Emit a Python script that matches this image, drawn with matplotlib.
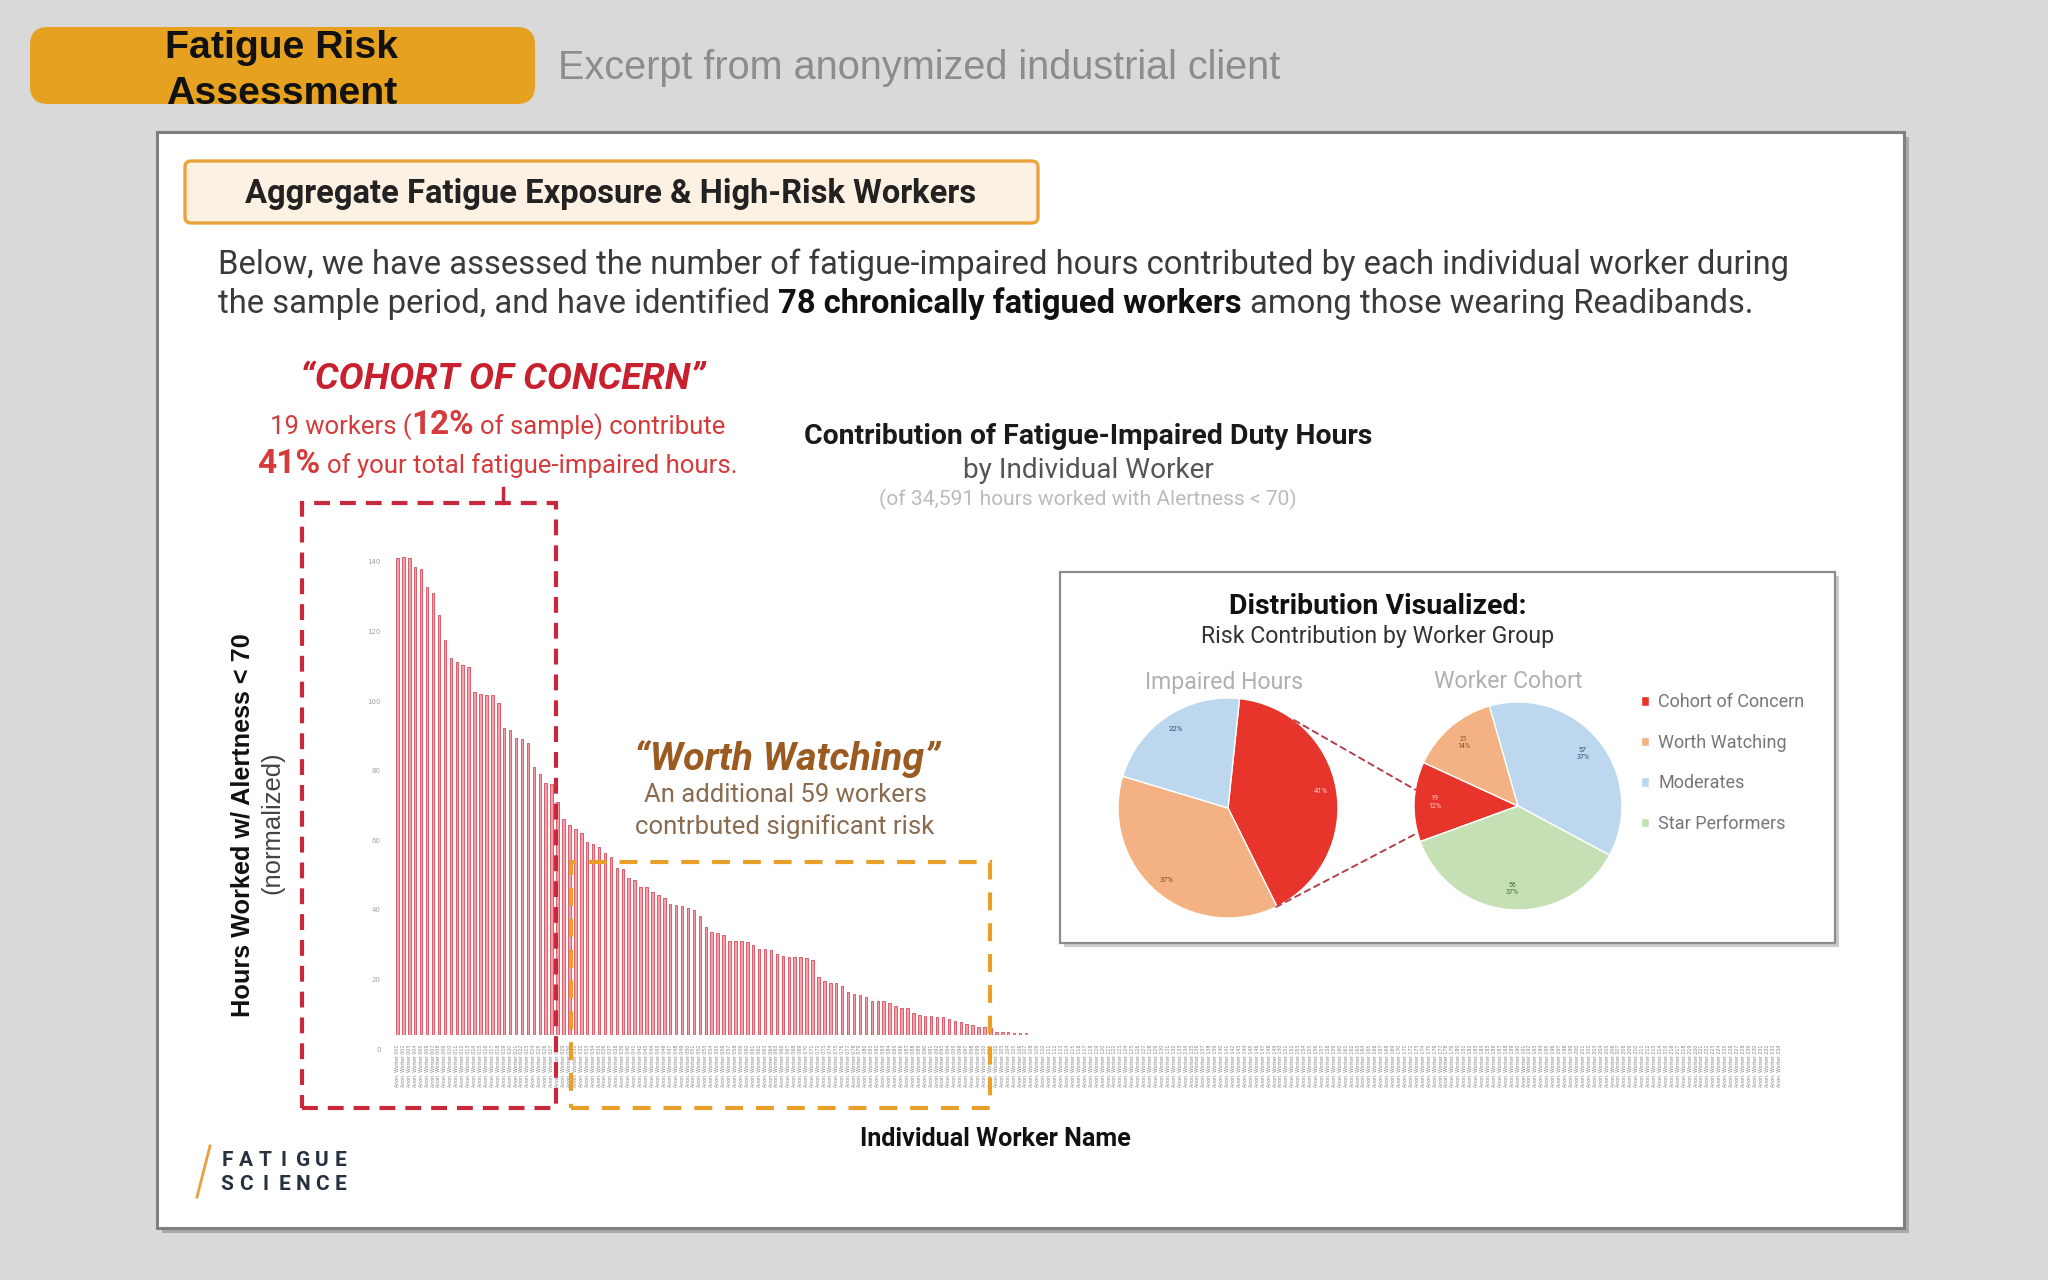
"""Fatigue risk slide: impaired hours per worker with cohort pies."""

import matplotlib

matplotlib.use("Agg")
import matplotlib.pyplot as plt
import numpy as np
from matplotlib.patches import ConnectionPatch, FancyBboxPatch
from matplotlib.transforms import IdentityTransform, ScaledTranslation

# ---------------------------------------------------------------- data
# fatigue-impaired hours (normalized) for the workers with a visible bar,
# sorted high to low; every other worker has 0
impaired_hours = [
    137.0, 137.4, 137.0, 134.6, 134.0, 128.8, 127.0, 120.7, 113.6, 108.4,
    107.3, 106.4, 105.8, 98.7, 98.0, 97.8, 97.8, 95.4, 88.3, 87.7,
    85.4, 85.2, 84.0, 77.0, 75.0, 72.5, 72.0,
    67.1, 62.0, 60.4, 59.1, 58.2, 55.6, 54.9, 54.0, 52.4, 51.1,
    47.9, 47.6, 45.1, 44.6, 42.5, 42.5, 41.2, 40.3, 39.3, 37.7,
    37.4, 37.1, 36.4, 36.0, 34.2, 31.0, 29.7, 29.4, 28.8, 27.1,
    27.1, 27.1, 26.6, 25.9, 24.7, 24.7, 24.5, 23.3, 22.7, 22.5,
    22.4, 22.4, 22.1, 21.6, 16.6, 15.4, 14.9, 14.9, 14.1, 12.5,
    11.8, 11.5, 11.0, 9.9, 9.9, 9.9, 9.1, 8.2, 7.7, 7.7,
    6.3, 5.8, 5.5, 5.5, 5.3, 5.1, 4.5, 4.1, 3.8, 3.2,
    2.9, 2.4, 2.2, 1.9, 1.0, 0.9, 0.8, 0.7, 0.6, 0.5,
]
N_WORKERS = 234
hours = impaired_hours + [0.0] * (N_WORKERS - len(impaired_hours))
# names are anonymized in the source
worker_names = [f"Anon. Worker {i:03d}" for i in range(1, N_WORKERS + 1)]
y_ticks = [0, 20, 40, 60, 80, 100, 120, 140]

groups = ["Cohort of Concern", "Worth Watching", "Moderates", "Star Performers"]
group_colors = ["#E8352B", "#F4B183", "#BDD7EE", "#C5E0B4"]
group_text_colors = ["#FBD3CC", "#8A4A1A", "#2E4D7A", "#3D6B2C"]
impaired_share = [41, 37, 22]          # % of impaired hours (first three groups)
cohort_counts = [19, 21, 57, 56]       # workers per group

# ---------------------------------------------------------------- canvas
W, H = 2048, 1280
plt.rcParams["font.family"] = ["Roboto", "DejaVu Sans"]
fig = plt.figure(figsize=(W / 100, H / 100), dpi=100, facecolor="#D9D9D9")
RENDERER = fig.canvas.get_renderer()
PX = IdentityTransform()


def box(x0, y0, x1, y1, boxstyle="square,pad=0", **kw):
    """Patch from top-left pixel coordinates."""
    patch = FancyBboxPatch((x0, H - y1), x1 - x0, y1 - y0,
                           boxstyle=boxstyle, transform=PX, **kw)
    fig.add_artist(patch)
    return patch


def label(x, y, s, width=None, size=12, **kw):
    """Text at pixel position, optionally scaled to a target length."""
    kw.setdefault("ha", "center")
    kw.setdefault("va", "center")
    t = fig.text(x / W, 1 - y / H, s, fontsize=size, **kw)
    if width:
        ext = t.get_window_extent(RENDERER)
        span = ext.height if kw.get("rotation") == 90 else ext.width
        t.set_fontsize(size * width / span)
    return t


def runs(x, y, parts, width=None, size=12, ha="center", **kw):
    """One line made of differently styled runs, baseline at y."""
    probe_a = fig.text(0, 0, "n n", fontsize=size, **kw)
    probe_b = fig.text(0, 0, "nn", fontsize=size, **kw)
    space = (probe_a.get_window_extent(RENDERER).width
             - probe_b.get_window_extent(RENDERER).width)
    probe_a.remove()
    probe_b.remove()

    arts, widths, gaps = [], [], []
    for text, style, gap in parts:
        opts = dict(kw)
        opts.update(style)
        scale = opts.pop("scale", 1.0)
        t = fig.text(0, 1 - y / H, text, fontsize=size * scale,
                     ha="left", va="baseline", **opts)
        arts.append(t)
        widths.append(t.get_window_extent(RENDERER).width)
        gaps.append(space if gap else 0.0)
    total = sum(widths) + sum(gaps)
    factor = width / total if width else 1.0
    for t in arts:
        t.set_fontsize(t.get_fontsize() * factor)
    pos = x - total * factor / 2 if ha == "center" else x
    for t, w, g in zip(arts, widths, gaps):
        pos += g * factor
        t.set_x(pos / W)
        pos += w * factor
    return arts


# ---------------------------------------------------------------- slide frame
box(30, 27, 535, 104, boxstyle="round,pad=0,rounding_size=18",
    facecolor="#E5A11F", edgecolor="none", zorder=-1)
label(282, 71, "Fatigue Risk\nAssessment", width=234, size=28,
      weight="bold", color="#111111", family="Liberation Sans", linespacing=1.38)
label(558, 68, "Excerpt from anonymized industrial client", width=722, size=25,
      ha="left", color="#8C8C8C", family="Liberation Sans")

box(162, 137, 1909, 1233, facecolor="#A9A9A9", edgecolor="none", zorder=-3)
box(157, 132, 1904, 1228, facecolor="white", edgecolor="#7F7F7F",
    linewidth=2.2, zorder=-2)

box(185, 161, 1038, 223, boxstyle="round,pad=0,rounding_size=6",
    facecolor="#FDF1E3", edgecolor="#E9A53C", linewidth=2.4, zorder=-1)
label(611, 194, "Aggregate Fatigue Exposure & High-Risk Workers", width=731,
      size=20, weight="bold", color="#222222")

line1 = label(218, 265, "Below, we have assessed the number of fatigue-impaired "
              "hours contributed by each individual worker during",
              width=1566, size=20, ha="left", color="#3A3A3A")
runs(218, 313, [
    ("the sample period, and have identified", {}, False),
    ("78 chronically fatigued workers", {"weight": "bold", "color": "#111111"}, True),
    ("among those wearing Readibands.", {}, True),
], size=line1.get_fontsize(), ha="left", color="#3A3A3A")

# ---------------------------------------------------------------- call-outs
label(503, 379, "\u201cCOHORT OF CONCERN\u201d", width=404, size=22,
      weight="bold", style="italic", color="#C8202F")
runs(498, 434, [
    ("19 workers (", {}, False),
    ("12%", {"weight": "bold", "scale": 1.3}, False),
    ("of sample) contribute", {}, True),
], width=456, size=15, color="#D63A3A")
runs(498, 473, [
    ("41%", {"weight": "bold", "scale": 1.3}, False),
    ("of your total fatigue-impaired hours.", {}, True),
], width=482, size=15, color="#D63A3A")

red_dash = dict(fill=False, edgecolor="#C8283C", linewidth=3.0,
                linestyle=(0, (3.8, 2.4)), zorder=2)
box(302, 503, 556, 1108, **red_dash)
fig.add_artist(plt.Line2D([503 / W, 503 / W], [1 - 488 / H, 1 - 503 / H],
                          color="#C8283C", linewidth=2.5))

label(787, 759, "\u201cWorth Watching\u201d", width=306, size=22,
      weight="bold", style="italic", color="#9A5A20")
label(785, 795, "An additional 59 workers", width=282, size=16, color="#8B6B4F")
label(785, 827, "contrbuted significant risk", width=299, size=16, color="#8B6B4F")
box(571, 862, 990, 1108, fill=False, edgecolor="#E8A02A", linewidth=3.0,
    linestyle=(0, (4.3, 3.1)), zorder=2)

label(1088, 436, "Contribution of Fatigue-Impaired Duty Hours", width=569,
      size=16, weight="bold", color="#1A1A1A")
label(1088, 470, "by Individual Worker", width=251, size=16, color="#555555")
label(1088, 499, "(of 34,591 hours worked with Alertness < 70)", width=415,
      size=11, color="#BBBBBB")

# ---------------------------------------------------------------- bar chart
left, right, base, top = 394.5, 1782.0, 1035.0, 530.5
ax = fig.add_axes([left / W, 1 - base / H, (right - left) / W, (base - top) / H])
x = np.arange(N_WORKERS)
edges = ["#D84B5C" if v > 0 else "none" for v in hours]
ax.bar(x, hours, width=0.42, color="#F2A0A9", edgecolor=edges, linewidth=0.6)
ax.set_xlim(-0.5, N_WORKERS - 0.5)
ax.set_ylim(0, 145)
ax.set_yticks(y_ticks)
ax.set_yticklabels([str(v) for v in y_ticks], fontsize=5, color="#A0A0A0",
                   family="DejaVu Sans")
ax.set_xticks(x)
ax.set_xticklabels(worker_names, rotation=90, fontsize=3.4, color="#858585",
                   family="DejaVu Sans")
ax.tick_params(length=0)
ax.tick_params(axis="y", pad=10)
ax.tick_params(axis="x", pad=7)
for spine in ax.spines.values():
    spine.set_visible(False)
ax.patch.set_visible(False)
shift = ScaledTranslation(0, -14 / 100, fig.dpi_scale_trans)
for tick_label in ax.get_yticklabels():
    tick_label.set_transform(tick_label.get_transform() + shift)

label(242, 825, "Hours Worked w/ Alertness < 70", width=383, size=16,
      rotation=90, weight="bold", color="#111111", family="Liberation Sans")
label(272, 823, "(normalized)", width=144, size=14, rotation=90,
      color="#444444", family="Liberation Sans")
label(995, 1139, "Individual Worker Name", width=272, size=15,
      weight="bold", color="#111111")

# logo
fig.add_artist(plt.Line2D([197 / W, 210 / W], [1 - 1197 / H, 1 - 1146 / H],
                          color="#E8A040", linewidth=2))
for row, word in enumerate(["FATIGUE", "SCIENCE"]):
    for k, ch in enumerate(word):
        label(227 + k * 19, 1160 + row * 25, ch, size=15, weight="bold",
              color="#27303F")

# ---------------------------------------------------------------- pies
box(1064, 576, 1839, 947, facecolor="#C9C9C9", edgecolor="none", zorder=-1.5)
box(1060, 572, 1835, 943, facecolor="white", edgecolor="#8C8C8C",
    linewidth=1.6, zorder=-1)
label(1378, 607, "Distribution Visualized:", width=298, size=16,
      weight="bold", color="#111111")
label(1378, 637, "Risk Contribution by Worker Group", width=354, size=14,
      color="#333333")
label(1224, 682, "Impaired Hours", width=158, size=13, color="#B0B0B0")
label(1508, 682, "Worker Cohort", width=148, size=13, color="#B0B0B0")


def pie_axes(cx, cy, r):
    return fig.add_axes([(cx - r) / W, 1 - (cy + r) / H, 2 * r / W, 2 * r / H],
                        zorder=1)


wedge_style = dict(edgecolor="white", linewidth=1.0)
axl = pie_axes(1228, 808, 110)
_, _, pct_left = axl.pie(impaired_share, colors=group_colors[:3], startangle=84,
                         counterclock=False, autopct=lambda p: f"{p:.0f}%",
                         pctdistance=0.86, wedgeprops=wedge_style,
                         textprops=dict(fontsize=5.5))
for t, c in zip(pct_left, group_text_colors):
    t.set_color(c)

total_workers = sum(cohort_counts)
axr = pie_axes(1518, 806, 104)
wedges_r, _, pct_right = axr.pie(
    cohort_counts, colors=group_colors, startangle=200, counterclock=False,
    autopct=lambda p: f"{round(p * total_workers / 100)}\n{p:.0f}%",
    pctdistance=0.8, wedgeprops=wedge_style,
    textprops=dict(fontsize=5, linespacing=1.1))
for t, c in zip(pct_right, group_text_colors):
    t.set_color(c)
for pie_ax in (axl, axr):
    pie_ax.set_xlim(-1, 1)
    pie_ax.set_ylim(-1, 1)


def on_rim(angle):
    return (np.cos(np.radians(angle)), np.sin(np.radians(angle)))


for a_left, a_right in [(53, 171), (-64, 195)]:
    fig.add_artist(ConnectionPatch(
        xyA=on_rim(a_left), coordsA=axl.transData,
        xyB=on_rim(a_right), coordsB=axr.transData,
        color="#B5404A", linewidth=1.4, linestyle=(0, (3, 2.5)), zorder=2))

fig.legend(wedges_r, groups, loc="upper left",
           bbox_to_anchor=(1634 / W, 1 - 686 / H), frameon=False,
           prop=dict(family="Roboto", size=13), labelcolor="#777777",
           handlelength=0.45, handleheight=0.45, handletextpad=0.5,
           labelspacing=1.25, borderaxespad=0)

fig.savefig("out.png", dpi=100, facecolor=fig.get_facecolor())
